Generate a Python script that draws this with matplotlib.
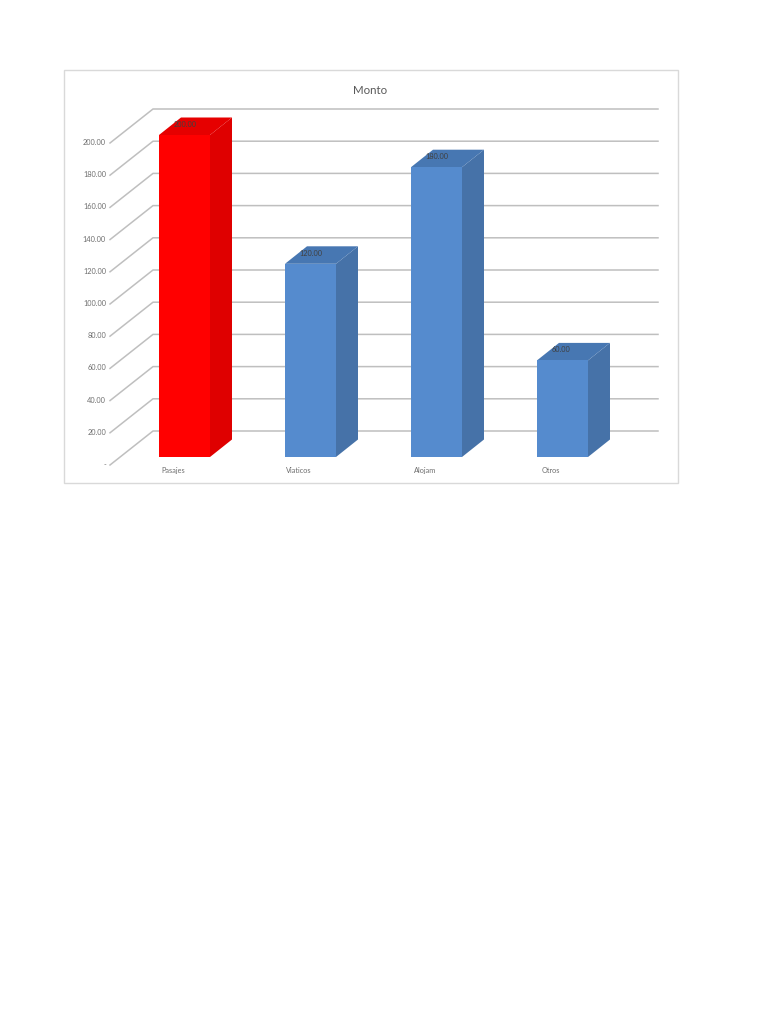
import matplotlib
matplotlib.use('Agg')
import matplotlib.pyplot as plt
from matplotlib.patches import Polygon, Rectangle

# data
categories = ['Pasajes', 'Viaticos', 'Alojam', 'Otros']
values = [200, 120, 180, 60]
ticks = [0, 20, 40, 60, 80, 100, 120, 140, 160, 180, 200]
tick_labels = ['-', '20.00', '40.00', '60.00', '80.00', '100.00', '120.00',
               '140.00', '160.00', '180.00', '200.00']
value_labels = ['200.00', '120.00', '180.00', '60.00']
bar_colors = [('#ff0000', '#e60000', '#df0000'),
              ('#558bce', '#4777b2', '#4672a8'),
              ('#558bce', '#4777b2', '#4672a8'),
              ('#558bce', '#4777b2', '#4672a8')]

plt.rcParams['font.family'] = ['Lato', 'DejaVu Sans']

fig = plt.figure(figsize=(7.68, 10.24), dpi=100)
ax = fig.add_axes([0, 0, 1, 1])
ax.set_xlim(0, 768)
ax.set_ylim(1024, 0)
ax.axis('off')

# layout in pixels, the pseudo 3d is projected by hand
px_per_unit = 1.61
back_x0, back_x1 = 153, 658
back_y0 = 431
front_x = 110
front_dy = 34
bar_y0 = 457
bar_w = 51
bar_dx, bar_dy = 22, 17.5
bar_lefts = [159, 285, 411, 537]

ax.add_patch(Rectangle((64, 70), 614, 413, fc='white', ec='#d9d9d9', lw=1))
ax.text(370.5, 90, 'Monto', ha='center', va='center', fontsize=8.3, color='#595959')

for t, lab in zip(ticks, tick_labels):
    y = back_y0 - t * px_per_unit
    ax.plot([front_x, back_x0, back_x1], [y + front_dy, y, y], color='#bfbfbf', lw=1.1,
            solid_joinstyle='miter', zorder=1)
    ax.text(106, y + front_dy - 0.5, lab, ha='right', va='center', fontsize=5.3, color='#6e6e6e')

for i in range(len(values)):
    x = bar_lefts[i]
    top = bar_y0 - values[i] * px_per_unit
    front, top_c, side = bar_colors[i]
    ax.add_patch(Polygon([(x + bar_w, bar_y0), (x + bar_w + bar_dx, bar_y0 - bar_dy),
                          (x + bar_w + bar_dx, top - bar_dy), (x + bar_w, top)],
                         fc=side, ec='none', zorder=2))
    ax.add_patch(Polygon([(x, top), (x + bar_dx, top - bar_dy),
                          (x + bar_w + bar_dx, top - bar_dy), (x + bar_w, top)],
                         fc=top_c, ec='none', zorder=2))
    ax.add_patch(Rectangle((x, top), bar_w, values[i] * px_per_unit, fc=front, ec='none', zorder=3))
    ax.text(x + 14.5, top - 10.5, value_labels[i], ha='left', va='center', fontsize=5.3,
            color='#404040', zorder=4)
    ax.text(x + 14, 473, categories[i], ha='center', va='baseline', fontsize=5.3, color='#6e6e6e')

fig.savefig('out.png', dpi=100)
